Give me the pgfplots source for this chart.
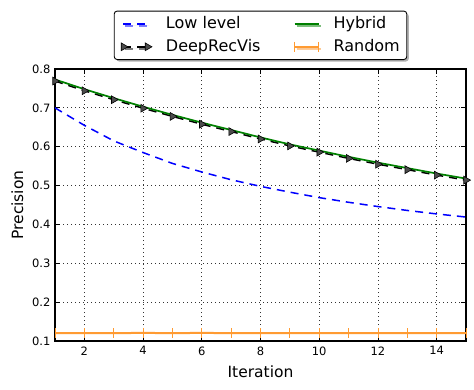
\documentclass[border=0pt]{standalone}
\usepackage{pgfplots}
\pgfplotsset{compat=1.18}
\usepackage{fontspec}
\setmainfont{DejaVu Sans}
\usetikzlibrary{shadows}
\definecolor{mplorange}{RGB}{255,155,50}
\definecolor{mplgreen}{RGB}{0,128,0}
\begin{document}
\begin{tikzpicture}
\useasboundingbox (0,0) rectangle (474pt,389pt);
\begin{axis}[
  at={(55pt,48pt)}, anchor=south west,
  scale only axis,
  width=411pt, height=272pt,
  xmin=1, xmax=15, ymin=0.1, ymax=0.8,
  xtick={2,4,6,8,10,12,14},
  ytick={0.1,0.2,0.3,0.4,0.5,0.6,0.7,0.8},
  yticklabel style={/pgf/number format/fixed,/pgf/number format/precision=1,/pgf/number format/fixed zerofill, xshift=-1pt},
  xticklabel style={yshift=-2pt},
  /pgf/number format/assume math mode=true,
  tick label style={font=\fontsize{11.5}{13}\selectfont},
  label style={font=\fontsize{15.5}{18}\selectfont},
  xlabel={Iteration}, ylabel={Precision},
  xlabel style={yshift=-4pt},
  ylabel style={yshift=2pt},
  grid=major,
  major grid style={black!80, line width=0.8pt, dash pattern=on 1pt off 3pt},
  axis line style={line width=1.4pt},
  tick align=inside,
  major tick length=5pt,
  tick style={black, line width=0.8pt},
  xtick pos=both, ytick pos=both,
  legend columns=2,
  transpose legend,
  legend image code/.code={\draw[#1] plot coordinates {(0pt,0pt) (24pt,0pt)};},
  legend style={at={(0.5,1)}, anchor=south, yshift=9pt, draw=black, line width=0.9pt, fill=white, rounded corners=3pt,
    drop shadow={shadow xshift=2pt, shadow yshift=-2pt, fill=black!60},
    font=\fontsize{16}{19}\selectfont, inner xsep=7pt, inner ysep=5pt,
    nodes={inner xsep=0pt, inner ysep=0pt, text height=12pt, text depth=3.5pt},
    column sep=14pt, row sep=7.5pt,
    /tikz/every even column/.append style={column sep=33pt}},
  legend cell align=left,
]
\addplot[blue, line width=1.5pt, dash pattern=on 8pt off 6pt] coordinates {
(1,0.700)(2,0.655)(3,0.615)(4,0.585)(5,0.557)(6,0.535)(7,0.515)(8,0.498)
(9,0.483)(10,0.469)(11,0.457)(12,0.446)(13,0.436)(14,0.427)(15,0.419)};
\addlegendentry{Low level}
\addplot[black, line width=1.5pt, dash pattern=on 8pt off 6pt,
  mark=triangle*, mark size=4.5pt, mark options={solid, rotate=-90, fill=black!70, draw=black, line width=0.6pt}] coordinates {
(1,0.769)(2,0.744)(3,0.721)(4,0.699)(5,0.678)(6,0.658)(7,0.639)(8,0.620)
(9,0.602)(10,0.586)(11,0.570)(12,0.555)(13,0.541)(14,0.527)(15,0.514)};
\addlegendentry{DeepRecVis}
\addplot[mplgreen, line width=1.7pt] coordinates {
(1,0.773)(2,0.748)(3,0.725)(4,0.703)(5,0.682)(6,0.662)(7,0.643)(8,0.624)
(9,0.606)(10,0.590)(11,0.574)(12,0.559)(13,0.545)(14,0.531)(15,0.518)};
\addlegendentry{Hybrid}
\addplot[mplorange, line width=2pt, mark=|, mark size=5pt, mark options={solid, line width=0.8pt}] coordinates {
(1,0.120)(2,0.120)(3,0.120)(4,0.121)(5,0.120)(6,0.121)(7,0.120)(8,0.120)
(9,0.120)(10,0.120)(11,0.120)(12,0.120)(13,0.120)(14,0.120)(15,0.120)};
\addlegendentry{Random}
\end{axis}
\end{tikzpicture}
\end{document}
